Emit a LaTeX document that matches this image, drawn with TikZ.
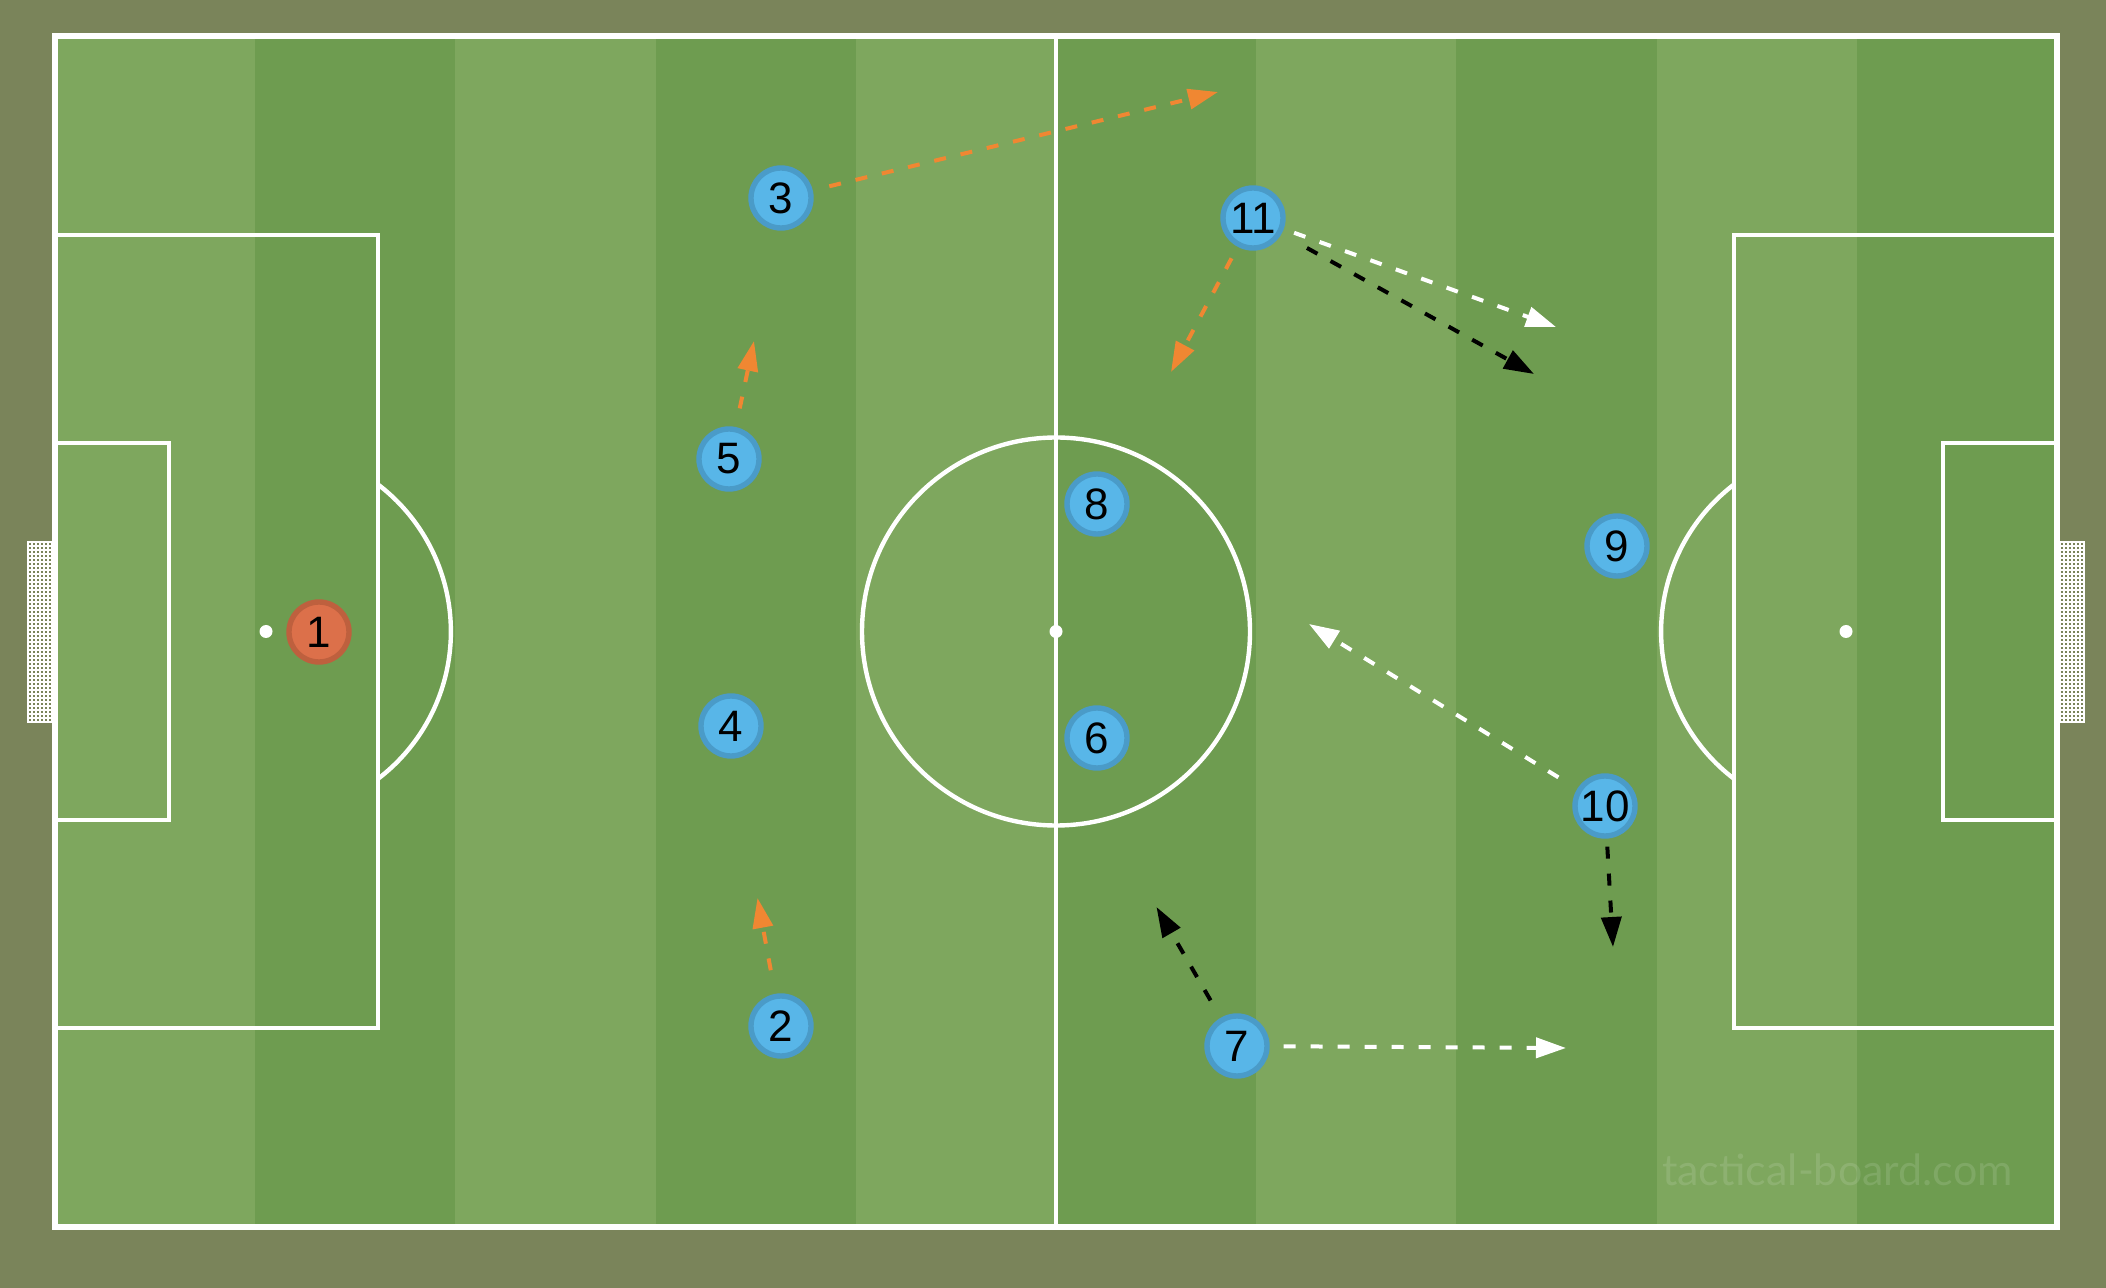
\documentclass[tikz,border=0pt]{standalone}
\usepackage{fontspec}
\setmainfont{Liberation Sans}
\newfontfamily\marque{Lato}
\usetikzlibrary{arrows.meta}

\definecolor{fond}{HTML}{7A845A}
\definecolor{herbeclair}{HTML}{7EA75E}
\definecolor{herbefonce}{HTML}{6E9C50}
\definecolor{bleujoueur}{HTML}{58B6E8}
\definecolor{bordbleu}{HTML}{4A9BC8}
\definecolor{rougegardien}{HTML}{DC704A}
\definecolor{bordrouge}{HTML}{BE603E}
\definecolor{orangepasse}{HTML}{F08732}

\tikzset{
  joueur/.style={circle, minimum size=30pt, inner sep=0pt, fill=bleujoueur, draw=bordbleu,
    line width=2.7pt, text=black, font=\fontsize{22}{22}\selectfont},
  gardien/.style={joueur, fill=rougegardien, draw=bordrouge},
  ligne/.style={white, line width=2.2pt},
  course/.style={#1, dash pattern=on 6pt off 7.5pt, line width=2pt,
    -{Triangle[length=15pt, width=10pt]}},
}

\begin{document}
\begin{tikzpicture}[x=0.5pt, y=-0.5pt]
  \useasboundingbox (0,0) rectangle (2106,1288);
  \fill[fond] (0,0) rectangle (2106,1288);

  % dessiner les buts
  \foreach \xg in {28,2060} {
    \foreach \k in {0,...,6}
      \draw[white, line width=0.6pt] ({\xg+4*\k},542) -- ({\xg+4*\k},722);
    \foreach \k in {0,...,45}
      \draw[white, line width=0.6pt] (\xg,{542+4*\k}) -- ({\xg+24},{542+4*\k});
    \draw[white, line width=1.2pt] (\xg,542) rectangle ({\xg+24},722);
  }

  % dessiner le terrain
  \fill[herbeclair] (55,36) rectangle (2057,1227);
  \foreach \i in {1,3,...,9}
    \fill[herbefonce] ({55+200.2*\i},36) rectangle ({255.2+200.2*\i},1227);

  \draw[ligne] (1056,36) -- (1056,1227);
  \draw[ligne] (1056,631.5) circle[radius=194];
  \draw[ligne] (55,235) rectangle (378,1028);
  \draw[ligne] (55,443) rectangle (169,820);
  \draw[ligne] (2057,235) rectangle (1734,1028);
  \draw[ligne] (2057,443) rectangle (1943,820);
  \draw[ligne] (378,484.5) arc[start angle=-52.7, end angle=52.7, radius=185];
  \draw[ligne] (1734,484.5) arc[start angle=232.7, end angle=127.3, radius=185];
  \draw[white, line width=3pt] (55,36) rectangle (2057,1227);
  \foreach \xs in {266,1056,1846}
    \fill[white] (\xs,631.5) circle[radius=6.5];

  \node[anchor=base west, text=white, opacity=0.12, font=\marque\fontsize{21.5}{21.5}\selectfont]
    (marque) at (1655,1185) {tactical-board.com};

  % les joueurs
  \node[gardien] (p1) at (319,632) {1};
  \node[joueur] (p2) at (781,1026) {2};
  \node[joueur] (p3) at (781,198) {3};
  \node[joueur] (p4) at (731,726) {4};
  \node[joueur] (p5) at (729,459) {5};
  \node[joueur] (p6) at (1097,738) {6};
  \node[joueur] (p7) at (1237,1046) {7};
  \node[joueur] (p8) at (1097,504) {8};
  \node[joueur] (p9) at (1617,546) {9};
  \node[joueur] (p10) at (1605,806) {10};
  \node[joueur] (p11) at (1253,218) {11};

  % bouts des fleches
  \coordinate (b3) at (1218,92);
  \coordinate (b5) at (754,341);
  \coordinate (b2) at (757.5,898);
  \coordinate (b11o) at (1171,372);
  \coordinate (b11w) at (1556,327);
  \coordinate (b11n) at (1534,374);
  \coordinate (b10w) at (1309,624);
  \coordinate (b10n) at (1613,947);
  \coordinate (b7n) at (1156.5,907);
  \coordinate (b7w) at (1566,1048);

  % dessiner les courses
  \foreach \de/\vers/\coul/\ecart in {p3/b3/orangepasse/8.5, p5/b5/orangepasse/9.5,
      p2/b2/orangepasse/12, p11/b11o/orangepasse/6.5, p11/b11w/white/5.5,
      p11/b11n/black/14.5, p10/b10w/white/11, p10/b10n/black/4,
      p7/b7n/black/10, p7/b7w/white/7}
    \draw[course=\coul, shorten <=\ecart pt] (\de) -- (\vers);
\end{tikzpicture}
\end{document}
